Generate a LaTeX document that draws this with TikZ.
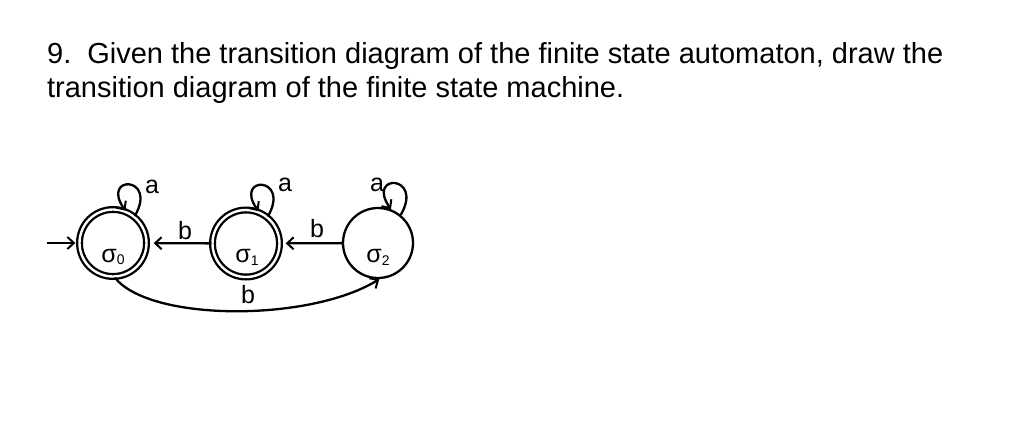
\documentclass[tikz,border=0pt]{standalone}
\usepackage{fontspec}
\setmainfont{Liberation Sans}
\usetikzlibrary{arrows.meta,calc}
\begin{document}
\begin{tikzpicture}[x=1pt,y=1pt,
  line width=2.3pt,
  >={Straight Barb[length=6.5pt,width=12pt,line width=2pt]},
  title/.style={anchor=base west,inner sep=0pt,font=\fontsize{29}{32}\selectfont},
  accstate/.style={circle,draw,double,double distance=2.4pt,minimum size=67pt,inner sep=0pt},
  plainstate/.style={circle,draw,minimum size=70pt,inner sep=0pt},
  statelabel/.style={inner sep=0pt,font=\fontsize{25}{27}\selectfont},
  edgelabel/.style={inner sep=0pt,font=\fontsize{25}{27}\selectfont},
  loopedge/.style={->}]
\useasboundingbox (0,0) rectangle (1024,-439);
\fill[white] (0,0) rectangle (1024,-439);
\node[title] (t1) at (46,-63) {9.\hspace{0.55em}Given the transition diagram of the finite state automaton, draw the};
\node[title] (t2) at (46,-97) {transition diagram of the finite state machine.};

\node[accstate] (s0) at (113,-243) {};
\node[accstate] (s1) at (246,-243.5) {};
\node[plainstate] (s2) at (378,-243) {};

\node[statelabel] (l0) at (113,-257) {σ{\fontsize{14}{14}\selectfont\raisebox{-0.2em}{0}}};
\node[statelabel] (l1) at (247,-257) {σ{\fontsize{14}{14}\selectfont\raisebox{-0.2em}{1}}};
\node[statelabel] (l2) at (378,-257) {σ{\fontsize{14}{14}\selectfont\raisebox{-0.2em}{2}}};

\coordinate (init) at (47,-243);
\draw[->,shorten >=3pt] (init) -- (s0);

% self loops
\draw[loopedge] (s0.51) .. controls +(60:47) and +(125:44) .. (s0.69);
\draw[loopedge] (s1.51) .. controls +(60:47) and +(125:44) .. (s1.69);
\draw[loopedge] (s2.51) .. controls +(60:47) and +(125:44) .. (s2.69);
\node[edgelabel] (a0) at (152,-187) {a};
\node[edgelabel] (a1) at (285,-185) {a};
\node[edgelabel] (a2) at (377,-185) {a};

% straight transitions
\draw[->,shorten >=6pt] (s1) -- (s0);
\draw[->,shorten >=5pt] (s2) -- (s1);
\node[edgelabel] (b01) at (185,-231) {b};
\node[edgelabel] (b12) at (317,-229) {b};

% bottom curve
\draw[->] (s0.-87) .. controls (150,-322) and (310,-322) .. (s2.-88);
\node[edgelabel] (b02) at (248,-295) {b};
\end{tikzpicture}
\end{document}
